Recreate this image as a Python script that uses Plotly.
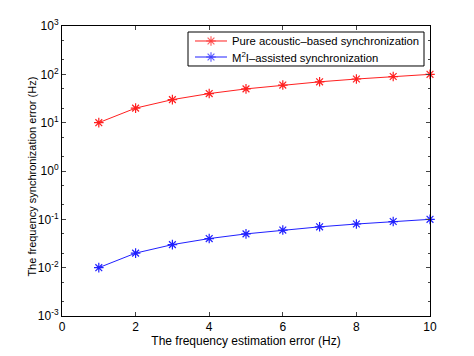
import plotly.graph_objects as go

x_vals = [1, 2, 3, 4, 5, 6, 7, 8, 9, 10]
pure_acoustic = [10, 20, 30, 40, 50, 60, 70, 80, 90, 100]
m2i_assisted = [0.01, 0.02, 0.03, 0.04, 0.05, 0.06, 0.07, 0.08, 0.09, 0.1]
series_names = ["Pure acoustic\u2013based synchronization",
                "M<sup>2</sup>I\u2013assisted synchronization"]
series_colors = ["#ff2020", "#2020ff"]
y_tickvals = [1e-3, 1e-2, 1e-1, 1e0, 1e1, 1e2, 1e3]
y_ticktext = ["10<sup>-3</sup>", "10<sup>-2</sup>", "10<sup>-1</sup>", "10<sup>0</sup>",
              "10<sup>1</sup>", "10<sup>2</sup>", "10<sup>3</sup>"]
x_tickvals = [0, 2, 4, 6, 8, 10]

FONT = "Liberation Sans, Arial, sans-serif"

fig = go.Figure()
for vals, name, col in zip([pure_acoustic, m2i_assisted], series_names, series_colors):
    fig.add_trace(go.Scatter(x=x_vals, y=vals, mode="lines+markers", name=name,
                             showlegend=False, cliponaxis=False,
                             line=dict(color=col, width=1),
                             marker=dict(symbol="asterisk-open", size=8, color=col,
                                         line=dict(color=col, width=1.2))))

# Hand-drawn legend (paper-fraction layout on a hidden overlay axis)
box = dict(x0=0.3424, x1=0.9837, y0=0.8621, y1=0.9793)
rows = [0.9483, 0.8931]
line_x = [0.3614, 0.4049, 0.4484]
text_x = 0.4565
shapes = [dict(type="rect", xref="paper", yref="paper", layer="below",
               x0=box["x0"], x1=box["x1"], y0=box["y0"], y1=box["y1"],
               line=dict(color="black", width=1), fillcolor="white")]
annotations = []
for ry, name, col in zip(rows, series_names, series_colors):
    fig.add_trace(go.Scatter(x=line_x, y=[ry] * 3, xaxis="x2", yaxis="y2",
                             mode="lines+markers", showlegend=False, hoverinfo="skip",
                             line=dict(color=col, width=1),
                             marker=dict(symbol="asterisk-open", size=[0, 8, 0], color=col,
                                         line=dict(color=col, width=1.2))))
    annotations.append(dict(text=name, xref="paper", yref="paper", x=text_x, y=ry,
                            xanchor="left", yanchor="middle", showarrow=False,
                            font=dict(family=FONT, size=11.3, color="black")))

annotations.append(dict(text="The frequency synchronization error (Hz)",
                        xref="paper", yref="paper", x=-0.084, y=0.481,
                        xanchor="center", yanchor="middle", textangle=-90,
                        showarrow=False, font=dict(family=FONT, size=11, color="black")))

fig.update_layout(
    width=474, height=356,
    margin=dict(l=54, r=52, t=18, b=48, autoexpand=False),
    paper_bgcolor="white", plot_bgcolor="white",
    font=dict(family=FONT, size=12, color="black"),
    showlegend=False,
    xaxis=dict(range=[0, 10], tickvals=x_tickvals, ticks="inside", ticklen=4,
               showline=True, linecolor="black", linewidth=1, mirror="ticks",
               showgrid=False, zeroline=False,
               title=dict(text="The frequency estimation error (Hz)", standoff=2,
                          font=dict(size=12))),
    yaxis=dict(type="log", range=[-3, 3], tickvals=y_tickvals, ticktext=y_ticktext,
               ticks="inside", ticklen=4,
               minor=dict(ticks="inside", ticklen=2, showgrid=False),
               showline=True, linecolor="black", linewidth=1, mirror="ticks",
               showgrid=False, zeroline=False),
    xaxis2=dict(overlaying="x", range=[0, 1], visible=False, fixedrange=True),
    yaxis2=dict(overlaying="y", range=[0, 1], visible=False, fixedrange=True),
    shapes=shapes,
    annotations=annotations,
)
fig.write_html("out.html")
